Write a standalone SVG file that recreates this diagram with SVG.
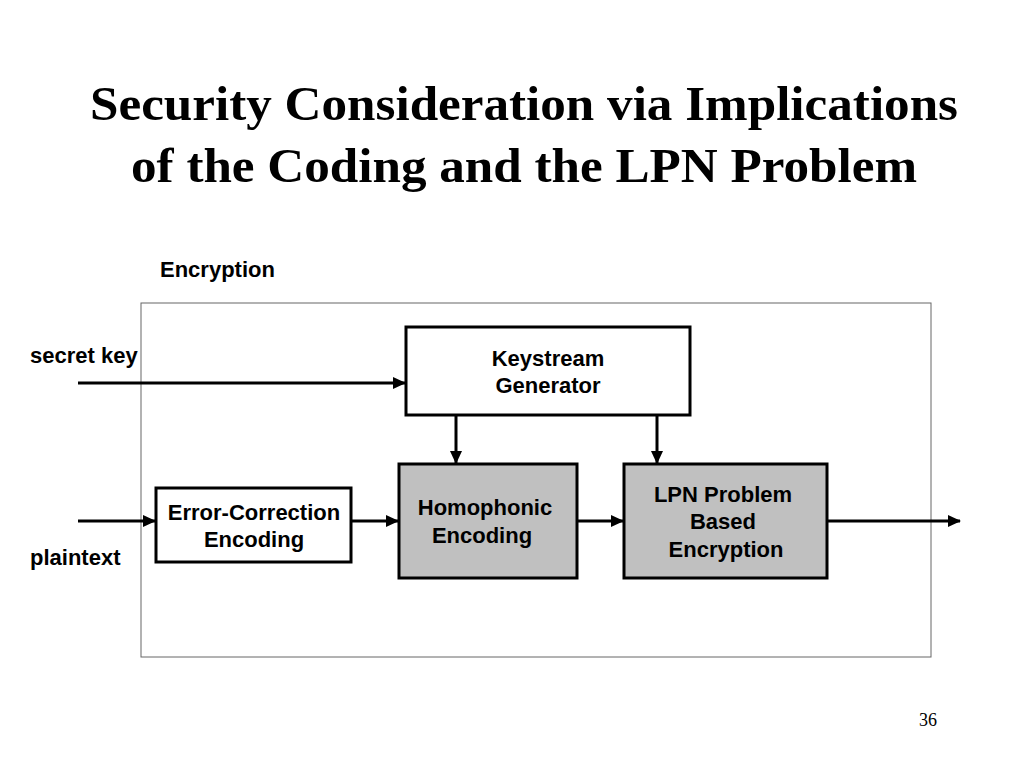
<svg xmlns="http://www.w3.org/2000/svg" width="1024" height="768" viewBox="0 0 1024 768">
<defs>
<style>
.t{font-family:"Liberation Sans",Arial,sans-serif;font-weight:bold;font-size:22px;fill:#000}
.c{text-anchor:middle}
.b{stroke:#000;stroke-width:3}
.ln{stroke:#000;stroke-width:3;fill:none;marker-end:url(#a)}
</style>
<marker id="a" markerWidth="13" markerHeight="12" refX="12" refY="6" orient="auto" markerUnits="userSpaceOnUse"><path d="M0,0L13,6L0,12z" fill="#000"/></marker>
</defs>
<rect width="1024" height="768" fill="#fff"/>
<text x="524" y="120" text-anchor="middle" font-family="Liberation Serif,serif" font-weight="bold" font-size="48" textLength="868" lengthAdjust="spacingAndGlyphs">Security Consideration via Implications</text>
<text x="524" y="182" text-anchor="middle" font-family="Liberation Serif,serif" font-weight="bold" font-size="48" textLength="786" lengthAdjust="spacingAndGlyphs">of the Coding and the LPN Problem</text>
<text x="160" y="277" class="t">Encryption</text>
<text x="30" y="363" class="t">secret key</text>
<text x="30" y="565" class="t">plaintext</text>
<text x="928" y="726" text-anchor="middle" font-family="Liberation Serif,serif" font-size="18">36</text>
<rect x="141" y="303" width="790" height="354" fill="none" stroke="#666" stroke-width="1"/>
<g id="keystream"><rect x="406" y="327" width="284" height="88" fill="#fff" class="b"/><text class="t c" x="548" y="366">Keystream</text><text class="t c" x="548" y="393">Generator</text></g>
<g id="homophonic"><rect x="399" y="464" width="178" height="114" fill="#c0c0c0" class="b"/><text class="t c" x="485" y="515">Homophonic</text><text class="t c" x="482" y="543">Encoding</text></g>
<g id="lpn"><rect x="624" y="464" width="203" height="114" fill="#c0c0c0" class="b"/><text class="t c" x="723" y="502">LPN Problem</text><text class="t c" x="723" y="529">Based</text><text class="t c" x="726" y="557">Encryption</text></g>
<g id="ecc"><rect x="156" y="488" width="195" height="74" fill="#fff" class="b"/><text class="t c" x="254" y="520">Error-Correction</text><text class="t c" x="254" y="547">Encoding</text></g>
<g id="connectors">
<line x1="78" y1="383" x2="405" y2="383" class="ln"/>
<line x1="78" y1="521" x2="155" y2="521" class="ln"/>
<line x1="351" y1="521" x2="398" y2="521" class="ln"/>
<line x1="577" y1="521" x2="623" y2="521" class="ln"/>
<line x1="827" y1="521" x2="960" y2="521" class="ln"/>
<line x1="456" y1="415" x2="456" y2="463" class="ln"/>
<line x1="657" y1="415" x2="657" y2="463" class="ln"/>
</g>
</svg>
